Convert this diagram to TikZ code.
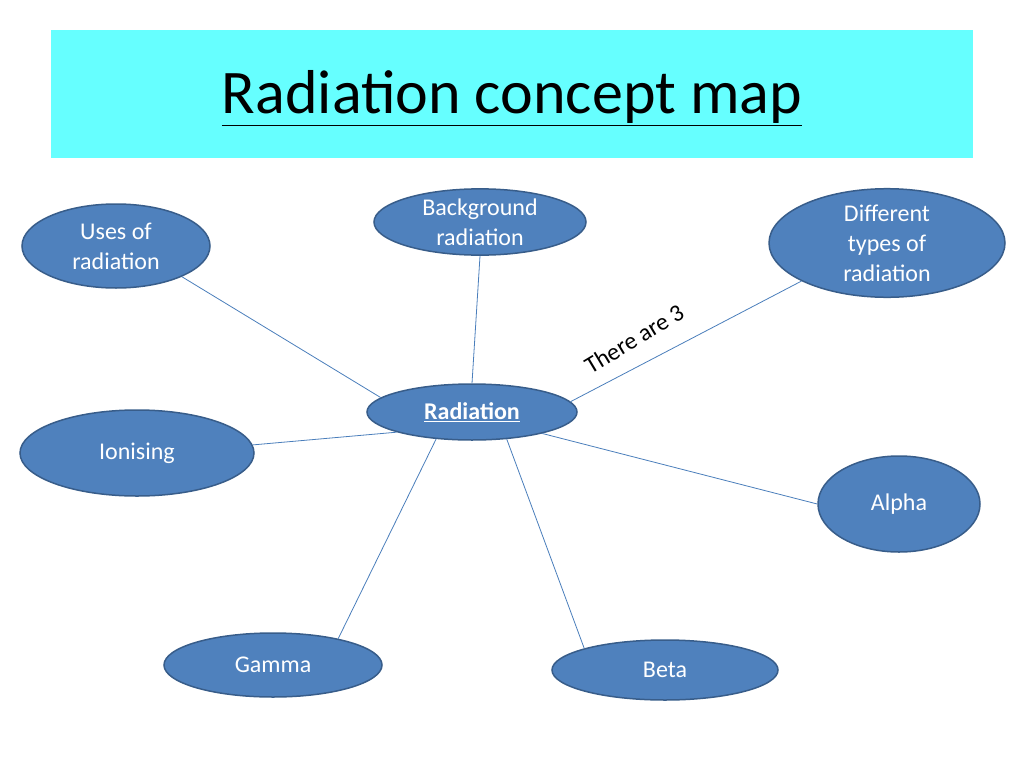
\documentclass[tikz,border=0pt]{standalone}
\usepackage{fontspec}
\setmainfont{Carlito}
\usetikzlibrary{shapes.geometric}
\definecolor{bubblefill}{HTML}{4F81BD}
\definecolor{bubbleedge}{HTML}{385D8A}
\definecolor{linkblue}{HTML}{4A7EBB}
\definecolor{titlecyan}{HTML}{66FFFF}
\newcommand{\uline}[2]{\underline{#2}}
\tikzset{
  bubble/.style={ellipse,draw=bubbleedge,line width=1.5pt,fill=bubblefill,
    text=white,inner sep=0pt,align=center,font=\fontsize{24}{30}\selectfont},
  link/.style={draw=linkblue,line width=0.8pt}
}
\begin{document}
\begin{tikzpicture}[x=1pt,y=-1pt]
\useasboundingbox (0,0) rectangle (1024,768);
\fill[titlecyan] (51,30) rectangle (973,158);
\node (title) at (512,98) {\fontsize{62}{70}\selectfont\underline{Radiation concept map}};

% outer bubbles
\node[bubble,minimum width=188pt,minimum height=84pt] (uses) at (116,246) {Uses of\\radiation};
\node[bubble,minimum width=212pt,minimum height=66pt] (back) at (480,222) {Background\\radiation};
\node[bubble,minimum width=236pt,minimum height=100pt] (types) at (887,243) {Different\\types of\\radiation};
\node[bubble,minimum width=234pt,minimum height=86pt] (ion) at (137,453) {Ionising};
\node[bubble,minimum width=162pt,minimum height=96pt] (alpha) at (899,504) {Alpha};
\node[bubble,minimum width=218pt,minimum height=64pt] (gamma) at (273,665) {Gamma};
\node[bubble,minimum width=226pt,minimum height=60pt] (beta) at (665,670) {Beta};
% centre
\node[bubble,minimum width=210pt,minimum height=56pt] (rad) at (472,412) {\textbf{\underline{Radiation}}};

\foreach \a/\n/\b in {171/uses/-25,90/back/-90,6/types/204,195/ion/4,-17/alpha/180,217/gamma/22,-38/beta/165}
  \path[link] (rad.\a) -- (\n.\b);

\node[rotate=31,font=\fontsize{24}{28}\selectfont] (three) at (634,339) {There are 3};
\end{tikzpicture}
\end{document}
